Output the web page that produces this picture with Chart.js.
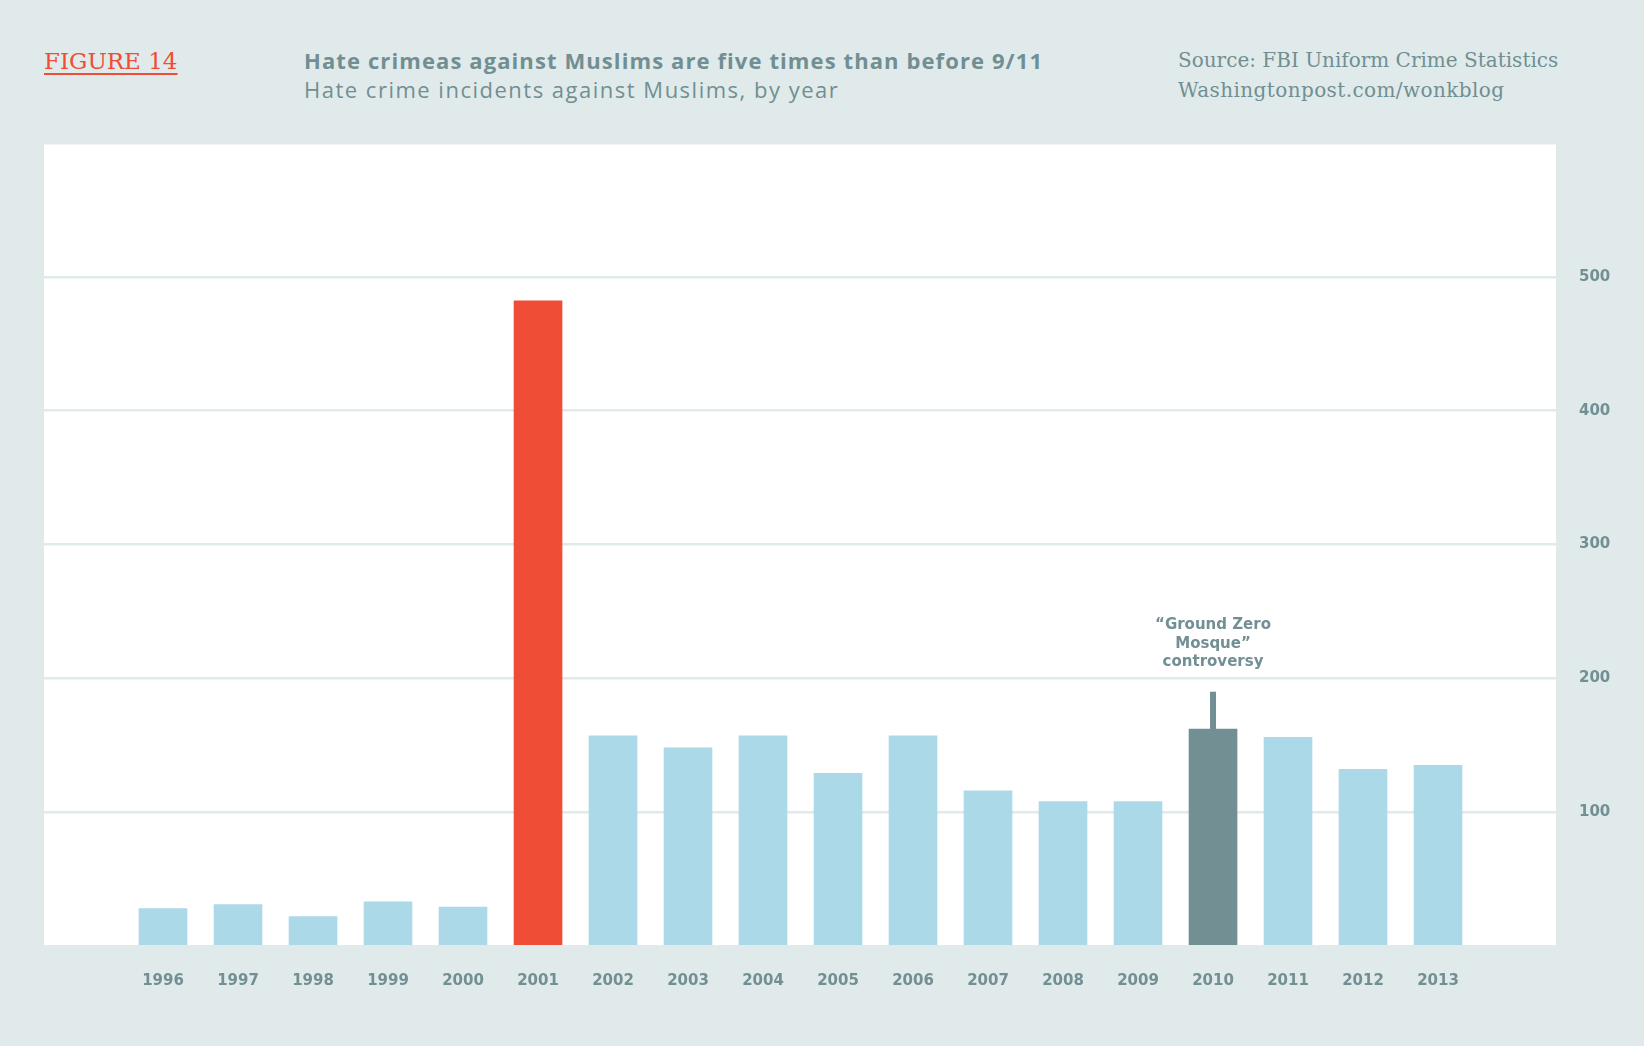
<!DOCTYPE html>
<html>
<head>
<meta charset="utf-8">
<script src="https://cdn.jsdelivr.net/npm/chart.js@4.4.1/dist/chart.umd.min.js"></script>
<style>
  body { margin: 0; background: #e0eaea; }
  #wrap { position: relative; width: 1644px; height: 1046px; }
  #wrap canvas { position: absolute; left: 0; top: 0; }
  .hd { position: absolute; line-height: 1; white-space: nowrap; color: #718f93; }
  #fig { left: 44px; top: 47.5px; font: 23px "DejaVu Serif", serif; color: #ef4d36;
         text-decoration: underline; text-decoration-thickness: 2px; text-underline-offset: 4px; }
  #title { left: 304px; top: 44.5px; font: 700 22px "Open Sans", sans-serif; letter-spacing: 1.1px; }
  #sub { left: 304px; top: 74px; font: 400 22px "Open Sans", sans-serif; letter-spacing: 1.5px; }
  #src1 { left: 1178px; top: 48px; font: 20px "DejaVu Serif", serif; }
  #src2 { left: 1178px; top: 77.5px; font: 20px "DejaVu Serif", serif; letter-spacing: 0.4px; }
</style>
</head>
<body>
<div id="wrap">
  <div class="hd" id="fig">FIGURE 14</div>
  <div class="hd" id="title">Hate crimeas against Muslims are five times than before 9/11</div>
  <div class="hd" id="sub">Hate crime incidents against Muslims, by year</div>
  <div class="hd" id="src1">Source: FBI Uniform Crime Statistics</div>
  <div class="hd" id="src2">Washingtonpost.com/wonkblog</div>
  <canvas id="myChart"></canvas>
</div>
<script>
// data
let years = ['1996', '1997', '1998', '1999', '2000', '2001', '2002', '2003', '2004',
             '2005', '2006', '2007', '2008', '2009', '2010', '2011', '2012', '2013'];
let incidents = [28, 31, 22, 33, 29, 482, 157, 148, 157, 129, 157, 116, 108, 108, 162, 156, 132, 135];
let yTicks = [100, 200, 300, 400, 500];

let highlightYear = '2001';
let noteYear = '2010';
let noteTop = 190;
let noteLines = ['\u201CGround Zero', 'Mosque\u201D', 'controversy'];

let blue = '#acd9e8';
let red = '#ef4d36';
let slate = '#728f93';

let barColors = years.map(function (y) {
    if (y === highlightYear) return red;
    if (y === noteYear) return slate;
    return blue;
});

let points = years.map(function (y, i) {
    return { x: i, y: incidents[i] };
});

// white panel behind the plot
let panelBg = {
    id: 'panelBg',
    beforeDraw: function (chart) {
        let a = chart.chartArea;
        let c = chart.ctx;
        c.save();
        c.fillStyle = '#ffffff';
        c.fillRect(a.left, a.top, a.right - a.left, a.bottom - a.top);
        c.restore();
    }
};

// stick + label above the 2010 bar
let noteMark = {
    id: 'noteMark',
    afterDatasetsDraw: function (chart) {
        let xs = chart.scales.x;
        let ys = chart.scales.y;
        let i = years.indexOf(noteYear);
        let x = xs.getPixelForValue(i);
        let yBar = ys.getPixelForValue(incidents[i]);
        let yTop = ys.getPixelForValue(noteTop);
        let c = chart.ctx;
        c.save();
        c.fillStyle = slate;
        c.fillRect(x - 3, yTop, 6, yBar - yTop + 1);
        c.font = 'bold 15px "DejaVu Sans", sans-serif';
        c.textAlign = 'center';
        c.textBaseline = 'alphabetic';
        noteLines.forEach(function (t, k) {
            c.fillText(t, x, yTop - 62.5 + k * 18.6);
        });
        c.restore();
    }
};

let ctx = document.getElementById('myChart');
let myChart = new Chart(ctx, {
    type: 'bar',
    data: {
        datasets: [{
            data: points,
            backgroundColor: barColors,
            borderWidth: 0,
            barThickness: 48
        }]
    },
    options: {
        responsive: true,
        maintainAspectRatio: false,
        animation: false,
        layout: { padding: { left: 44, top: 143, right: 0, bottom: 0 } },
        plugins: {
            legend: { display: false },
            tooltip: { enabled: false }
        },
        scales: {
            x: {
                type: 'linear',
                offset: false,
                min: -1.587,
                max: 18.573,
                grid: { display: false },
                border: { display: false },
                afterBuildTicks: function (scale) {
                    scale.ticks = years.map(function (y, i) { return { value: i }; });
                },
                afterFit: function (scale) { scale.height = 100; },
                ticks: {
                    autoSkip: false,
                    maxRotation: 0,
                    padding: 18,
                    color: slate,
                    font: { family: '"DejaVu Sans", sans-serif', size: 15, weight: 'bold' },
                    callback: function (v) { return years[v] !== undefined ? years[v] : ''; }
                }
            },
            y: {
                position: 'right',
                min: 0,
                max: 600,
                afterBuildTicks: function (scale) {
                    scale.ticks = [0].concat(yTicks, [600]).map(function (v) { return { value: v }; });
                },
                afterFit: function (scale) { scale.width = 88; },
                grid: { color: '#e0eaea', lineWidth: 2.5, drawTicks: false },
                border: { display: false },
                ticks: {
                    padding: 23,
                    color: slate,
                    font: { family: '"DejaVu Sans", sans-serif', size: 15, weight: 'bold' },
                    callback: function (v) { return yTicks.indexOf(v) >= 0 ? v : ''; }
                }
            }
        }
    },
    plugins: [panelBg, noteMark]
});
</script>
</body>
</html>
